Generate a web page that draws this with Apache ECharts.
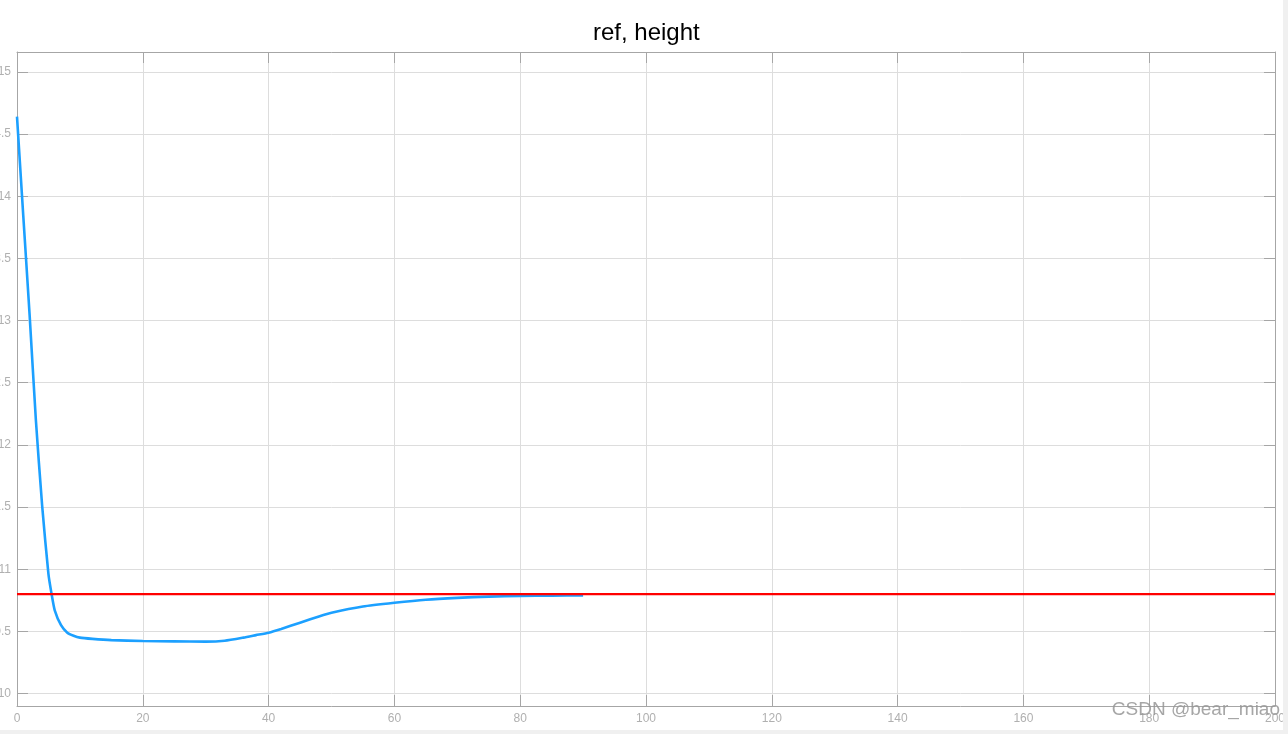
<!DOCTYPE html>
<html>
<head>
<meta charset="utf-8">
<script src="https://cdn.jsdelivr.net/npm/echarts@6/dist/echarts.min.js"></script>
<style>
  html, body { margin: 0; padding: 0; background: #f0f0f0; }
  #chart { position: absolute; left: 0; top: 0; width: 1283px; height: 730px; background: #ffffff; }
</style>
</head>
<body>
<div id="chart"></div>
<script>
// ---- data ----
var timeValues = [0, 1, 2, 3, 4, 5, 5.5, 6, 7, 8, 9, 10, 12, 15, 20, 25, 30, 33, 36, 38, 40, 42, 45, 48, 50, 55, 60, 65, 70, 75, 80, 85, 90];
var heightValues = [14.64, 13.84, 13.05, 12.20, 11.51, 10.96, 10.80, 10.67, 10.55, 10.49, 10.465, 10.45, 10.44, 10.43, 10.423, 10.42, 10.418, 10.425, 10.45, 10.47, 10.49, 10.52, 10.57, 10.62, 10.65, 10.70, 10.73, 10.755, 10.77, 10.78, 10.785, 10.788, 10.79];
var refX = [0, 200];
var refValues = [10.8, 10.8];
var yTickValues = [10, 10.5, 11, 11.5, 12, 12.5, 13, 13.5, 14, 14.5, 15];
var titleText = 'ref, height';
var watermarkText = 'CSDN @bear_miao';

var chart = echarts.init(document.getElementById('chart'), null, { renderer: 'canvas' });

function zip(a, b) { return a.map(function (v, i) { return [v, b[i]]; }); }

var axisGray = '#a6a6a6';
var gridGray = '#dddddd';
var labelGray = '#b0b0b0';

var option = {
  animation: false,
  backgroundColor: '#ffffff',
  title: {
    text: titleText,
    left: 588, top: 16,
    textStyle: { fontFamily: 'Liberation Sans, Arial', fontSize: 24, fontWeight: 'normal', color: '#000000' }
  },
  grid: { left: 17, right: 8, top: 52, bottom: 24, show: false, containLabel: false, outerBoundsMode: 'none' },
  xAxis: [{
    type: 'value', min: 0, max: 200, interval: 20, position: 'bottom',
    axisLine: { show: true, onZero: false, lineStyle: { color: axisGray, width: 1 } },
    axisTick: { show: true, inside: true, length: 11, lineStyle: { color: axisGray } },
    splitLine: { show: true, lineStyle: { color: gridGray, width: 1 } },
    axisLabel: { color: labelGray, fontSize: 12, margin: 7, fontFamily: 'Liberation Sans, Arial', hideOverlap: false }
  }, {
    type: 'value', min: 0, max: 200, interval: 20, position: 'top',
    axisLine: { show: true, onZero: false, lineStyle: { color: axisGray, width: 1 } },
    axisTick: { show: true, inside: true, length: 11, lineStyle: { color: axisGray } },
    splitLine: { show: false },
    axisLabel: { show: false }
  }],
  yAxis: [{
    type: 'value', min: 9.9, max: 15.16, position: 'left',
    axisLine: { show: true, onZero: false, lineStyle: { color: axisGray, width: 1 } },
    axisTick: { show: true, inside: true, length: 11, customValues: yTickValues, lineStyle: { color: axisGray } },
    splitLine: { show: true, lineStyle: { color: gridGray, width: 1 } },
    axisLabel: { color: labelGray, fontSize: 12, margin: 6, customValues: yTickValues, fontFamily: 'Liberation Sans, Arial',
      formatter: function (v) { return String(v); } }
  }, {
    type: 'value', min: 9.9, max: 15.16, position: 'right',
    axisLine: { show: true, onZero: false, lineStyle: { color: axisGray, width: 1 } },
    axisTick: { show: true, inside: true, length: 11, customValues: yTickValues, lineStyle: { color: axisGray } },
    splitLine: { show: false },
    axisLabel: { show: false }
  }],
  series: [{
    type: 'line', name: 'height', xAxisIndex: 0, yAxisIndex: 0,
    data: zip(timeValues, heightValues), showSymbol: false, smooth: 0.2,
    lineStyle: { color: '#1ca0ff', width: 2.6 }, z: 3
  }, {
    type: 'line', name: 'ref', xAxisIndex: 0, yAxisIndex: 0,
    data: zip(refX, refValues), showSymbol: false,
    lineStyle: { color: '#ff0000', width: 2.4 }, z: 4
  }],
  graphic: [{
    type: 'text', right: 3, top: 700, z: 100,
    style: { text: watermarkText, fontSize: 19, fontFamily: 'Liberation Sans, Arial', fill: 'rgba(150,150,150,0.85)' }
  }]
};
chart.setOption(option);
</script>
</body>
</html>
